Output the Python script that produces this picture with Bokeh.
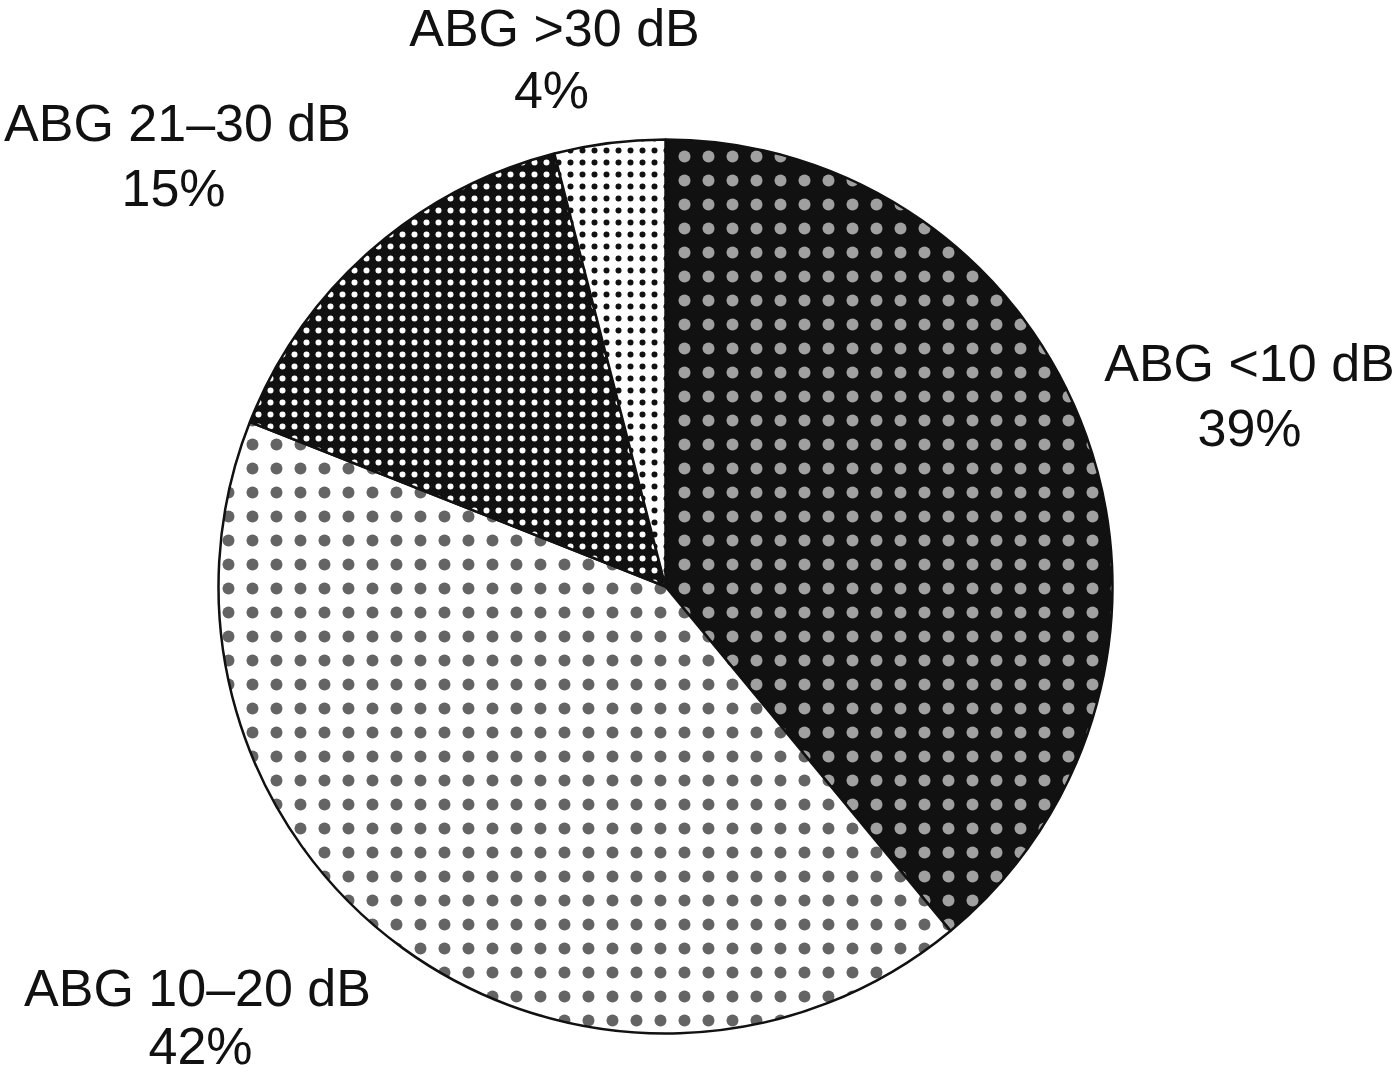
import numpy as np
from bokeh.plotting import figure
from bokeh.models import Range1d
from bokeh.core.properties import value
from bokeh.embed import file_html
from bokeh.resources import INLINE

# ---- data ----
categories = ["ABG <10 dB", "ABG 10\u201320 dB", "ABG 21\u201330 dB", "ABG >30 dB"]
percents = [39, 42, 15, 4]

# ---- styles ----
fill_colors = ["#111111", "#ffffff", "#111111", "#ffffff"]
dot_colors = ["#ffffff", "#111111", "#ffffff", "#111111"]
dot_scales = [24, 24, 12, 12]
dot_weights = [0.5, 0.5, 0.5, 0.5]
dot_alphas = [0.6, 0.65, 1.0, 1.0]

# ---- layout (page pixel coordinates, y measured up from bottom) ----
W, H = 1400, 1082
cx, cy, R = 665, H - 586, 447
TXT_DY = 21
label_x = [1249, 197, 177, 554]
label_x2 = [1249, 200, 173, 551]
label_y1 = [H - 383 + TXT_DY, H - 1008 + TXT_DY, H - 143 + TXT_DY, H - 48 + TXT_DY]
label_y2 = [H - 448 + TXT_DY, H - 1066 + TXT_DY, H - 208 + TXT_DY, H - 110 + TXT_DY]

frac = np.array(percents, dtype=float) / sum(percents)
cum = np.concatenate([[0.0], np.cumsum(frac)])
end_ang = np.pi / 2 - 2 * np.pi * cum[:-1]
start_ang = np.pi / 2 - 2 * np.pi * cum[1:]

p = figure(width=W, height=H, output_backend="svg", toolbar_location=None,
           x_range=Range1d(0, W), y_range=Range1d(0, H), min_border=0)
p.axis.visible = False
p.grid.visible = False
p.outline_line_color = None
p.background_fill_color = "white"
p.border_fill_color = "white"

for i in range(len(percents)):
    p.wedge(x=cx, y=cy, radius=R, start_angle=start_ang[i], end_angle=end_ang[i],
            fill_color=fill_colors[i], line_color="#111111", line_width=2.5,
            hatch_pattern="dot", hatch_color=dot_colors[i], hatch_alpha=dot_alphas[i],
            hatch_scale=dot_scales[i], hatch_weight=dot_weights[i])

pct_labels = [f"{v}%" for v in percents]
p.text(x=label_x, y=label_y1, text=categories, text_align="center",
       text_baseline="alphabetic", text_font=value("Liberation Sans"),
       text_font_size="52px", text_color="#111111")
p.text(x=label_x2, y=label_y2, text=pct_labels, text_align="center",
       text_baseline="alphabetic", text_font=value("Liberation Sans"),
       text_font_size="52px", text_color="#111111")

open("out.html", "w").write(file_html(p, INLINE))
